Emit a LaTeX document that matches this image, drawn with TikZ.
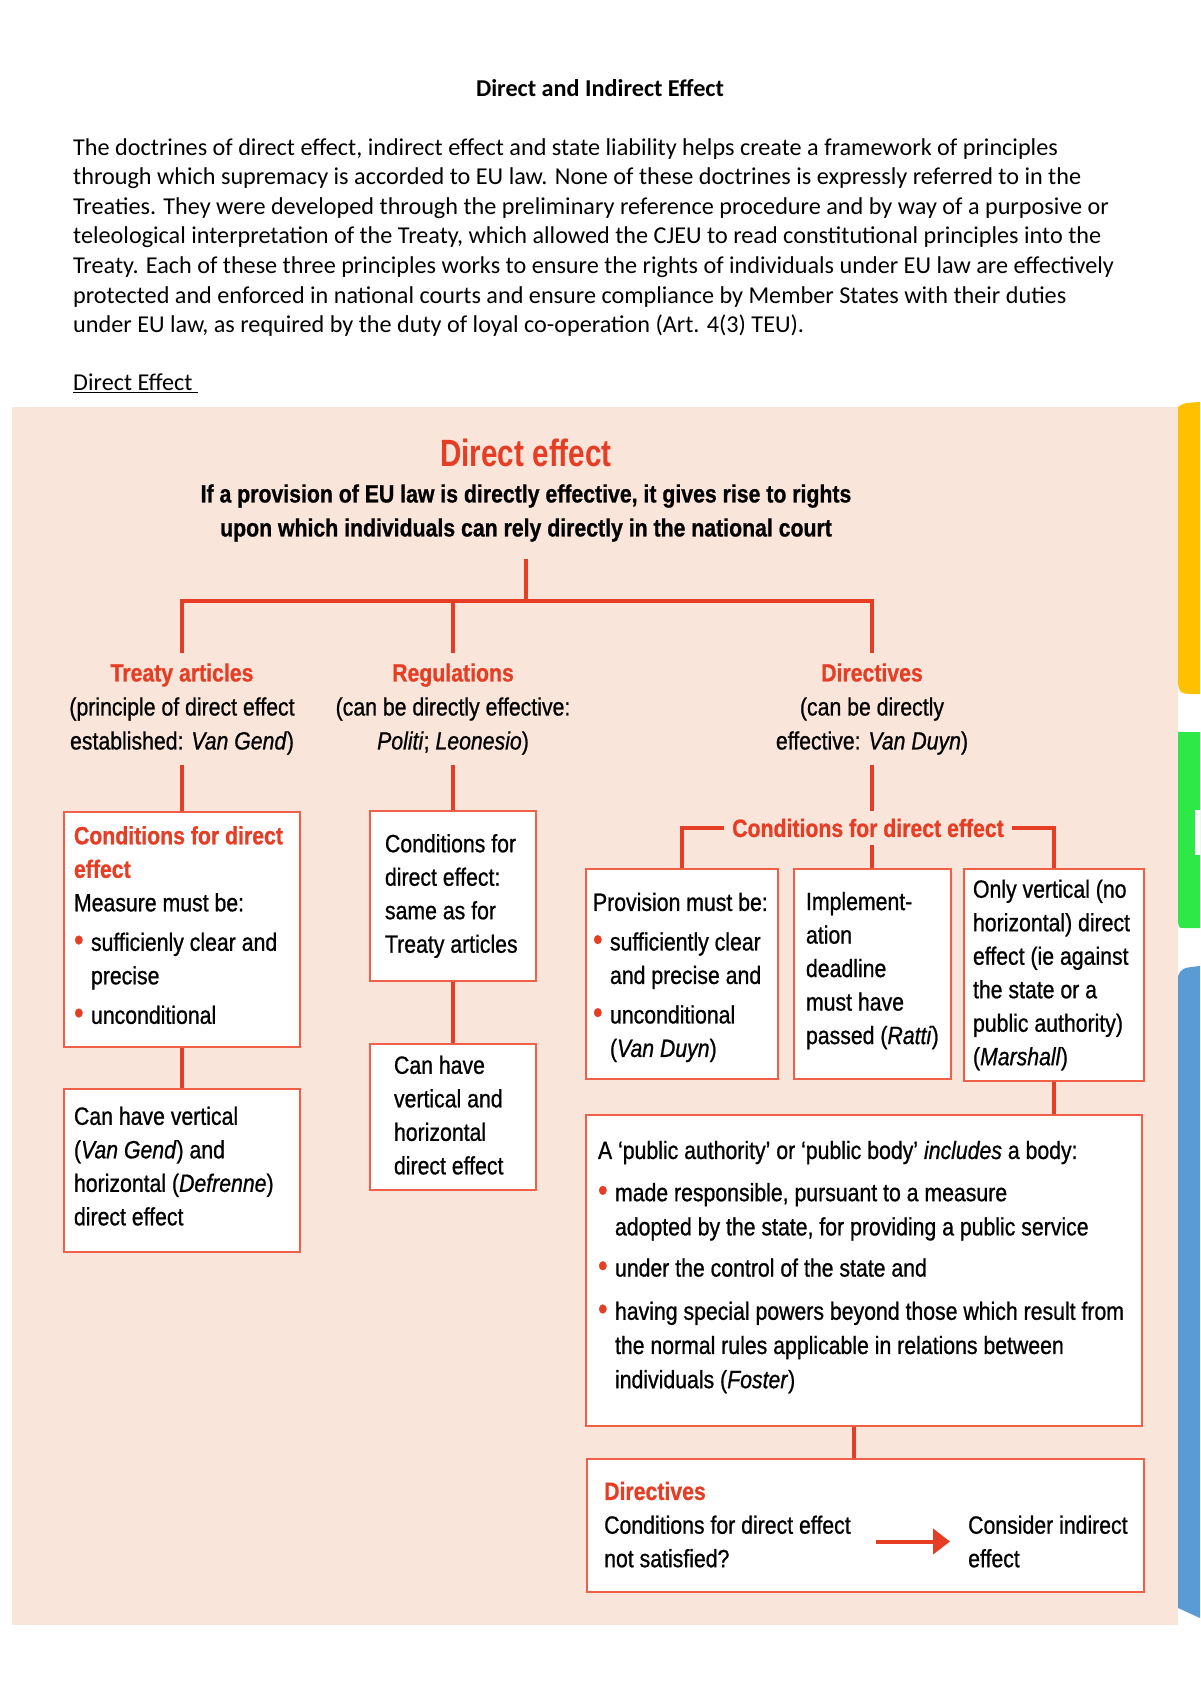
\documentclass[tikz,border=0pt]{standalone}
\usepackage{fontspec}
\setmainfont{Carlito}
\newfontfamily\diagfont[FakeStretch=0.85, FakeBold=0.8, Ligatures=TeX]{Liberation Sans}
\newfontfamily\headfont[FakeStretch=0.78]{Liberation Sans}
\usetikzlibrary{positioning, arrows.meta, calc}

\definecolor{deRed}{RGB}{230,62,36}
\definecolor{deBorder}{RGB}{240,96,72}
\definecolor{dePeach}{RGB}{250,229,219}
\definecolor{tabYellow}{RGB}{255,192,0}
\definecolor{tabGreen}{RGB}{46,232,72}
\definecolor{tabBlue}{RGB}{91,155,213}

\newcommand{\redHead}[1]{{\color{deRed}\bfseries #1}}
\newcommand{\redDot}{\makebox[17pt][l]{\color{deRed}\scalebox{1.3}{\textbullet}}}
\newcommand{\contIndent}{\hspace*{17pt}}
% invisible struts to nudge a text block inside its box
\newcommand{\padBelow}[1]{\rule[-#1]{0pt}{#1}}
\newcommand{\padAbove}[1]{\rule{0pt}{#1}}

\begin{document}
\begin{tikzpicture}[
    x=1pt, y=-1pt,
    % Node Styles
    pageText/.style={font=\fontsize{24.2}{29.6}\selectfont, inner sep=0pt, align=left},
    pageTitle/.style={font=\fontsize{24.2}{29.6}\selectfont\bfseries, inner sep=0pt},
    mainHead/.style={font=\headfont\bfseries\fontsize{38}{40}\selectfont, text=deRed, inner sep=0pt},
    subHead/.style={font=\diagfont\bfseries\fontsize{25}{34}\selectfont, align=center, inner sep=0pt, outer sep=17pt},
    bodyText/.style={font=\diagfont\fontsize{25}{33.5}\selectfont, inner sep=0pt},
    catLabel/.style={bodyText, font=\diagfont\fontsize{25}{34}\selectfont, align=center, outer sep=10pt},
    box/.style={bodyText, rectangle, draw=deBorder, line width=2pt, fill=white, align=flush left},
    conn/.style={draw=deRed, line width=4pt},
    arrowConn/.style={conn, -{Triangle[length=17pt, width=25pt]}}
]
\useasboundingbox (0,0) rectangle (1200,1698);

% =========================================================
% PAGE TEXT
% =========================================================
\node[pageTitle] (pageHead) at (600,88) {Direct and Indirect Effect};

\node[pageText, anchor=north west] (pageIntro) at (73,138) {
    The doctrines of direct effect, indirect effect and state liability helps create a framework of principles\\
    through which supremacy is accorded to EU law. None of these doctrines is expressly referred to in the\\
    Treaties. They were developed through the preliminary reference procedure and by way of a purposive or\\
    teleological interpretation of the Treaty, which allowed the CJEU to read constitutional principles into the\\
    Treaty. Each of these three principles works to ensure the rights of individuals under EU law are effectively\\
    protected and enforced in national courts and ensure compliance by Member States with their duties\\
    under EU law, as required by the duty of loyal co-operation (Art. 4(3) TEU).
};

\node[pageText, anchor=west] (pageSection) at (73,383) {\underline{Direct Effect\ }};

% =========================================================
% BACKGROUND AND SIDE TABS
% =========================================================
\fill[dePeach] (12,407) rectangle (1178,1625);

\fill[tabYellow] (1178,407) .. controls (1184,403) .. (1200,402) -- (1200,694)
    -- (1190,694) .. controls (1180,693) .. (1178,684) -- cycle;
\fill[tabGreen] (1178,732) -- (1200,732) -- (1200,928) -- (1184,928)
    .. controls (1179,928) .. (1178,922) -- cycle;
\fill[white] (1195,810) rectangle (1200,855);
\fill[tabBlue] (1178,976) .. controls (1182,968) .. (1200,966) -- (1200,1618)
    -- (1178,1608) -- cycle;

% =========================================================
% TOP: Direct effect
% =========================================================
\node[mainHead] (deTitle) at (526,453) {Direct effect};
\node[subHead] (deIntro) at (526,513) {If a provision of EU law is directly effective, it gives rise to rights\\upon which individuals can rely directly in the national court};

\coordinate (hub) at (526,601);

% Categories
\node[catLabel] (treaty) at (182,709) {\redHead{Treaty articles}\\(principle of direct effect\\established: \textit{Van Gend})};
\node[catLabel] (regulation) at (453,709) {\redHead{Regulations}\\(can be directly effective:\\\textit{Politi}; \textit{Leonesio})};
\node[catLabel] (directive) at (872,709) {\redHead{Directives}\\(can be directly\\effective: \textit{Van Duyn})};

% =========================================================
% LEFT: Treaty articles
% =========================================================
\node[box, minimum width=236pt, minimum height=235pt, text width=216pt] (treatyCond) at (182,929.5) {
    \redHead{Conditions for direct}\\
    \redHead{effect}\\
    Measure must be:\\[6pt]
    \redDot sufficienly clear and\\
    \contIndent precise\\[6pt]
    \redDot unconditional\padBelow{9pt}
};

\node[box, minimum width=236pt, minimum height=163pt, text width=216pt, below=40pt of treatyCond] (treatyScope) {
    Can have vertical\\
    (\textit{Van Gend}) and\\
    horizontal (\textit{Defrenne})\\
    direct effect\padBelow{9pt}
};

% =========================================================
% MIDDLE: Regulations
% =========================================================
\node[box, minimum width=166pt, minimum height=170pt, text width=136pt] (regCond) at (453,896) {
    Conditions for\\
    direct effect:\\
    same as for\\
    Treaty articles
};

\node[box, minimum width=166pt, minimum height=146pt, text width=118pt, below=61pt of regCond] (regScope) {
    Can have\\
    vertical and\\
    horizontal\\
    direct effect\padBelow{4pt}
};

% =========================================================
% RIGHT: Directives
% =========================================================
\node[bodyText, font=\diagfont\bfseries\fontsize{25}{30}\selectfont, text=deRed, outer sep=8pt] (dirCondHead) at (868,828) {Conditions for direct effect};

\node[box, minimum width=192pt, minimum height=210pt, text width=178pt] (dirClear) at (682,974) {
    \padAbove{25pt}Provision must be:\\[6pt]
    \redDot sufficiently clear\\
    \contIndent and precise and\\[6pt]
    \redDot unconditional\\
    \contIndent (\textit{Van Duyn})
};

\node[box, minimum width=157pt, minimum height=210pt, text width=133pt] (dirDeadline) at (872.5,974) {
    Implement-\\
    ation\\
    deadline\\
    must have\\
    passed (\textit{Ratti})\padBelow{12pt}
};

\node[box, minimum width=180pt, minimum height=212pt, text width=162pt] (dirVertical) at (1054,975) {
    Only vertical (no\\
    horizontal) direct\\
    effect (ie against\\
    the state or a\\
    public authority)\\
    (\textit{Marshall})
};

\node[box, minimum width=556pt, minimum height=311pt, text width=532pt, font=\diagfont\fontsize{25}{34.2}\selectfont] (publicBody) at (864,1270.5) {
    A ‘public authority’ or ‘public body’ \textit{includes} a body:\\[8pt]
    \redDot made responsible, pursuant to a measure\\
    \contIndent adopted by the state, for providing a public service\\[7pt]
    \redDot under the control of the state and\\[9pt]
    \redDot having special powers beyond those which result from\\
    \contIndent the normal rules applicable in relations between\\
    \contIndent individuals (\textit{Foster})\padBelow{12pt}
};

% Bottom box
\node[box, minimum width=557pt, minimum height=133pt] (directiveFail) at (865.5,1525.5) {};
\node[bodyText, font=\diagfont\bfseries\fontsize{25}{30}\selectfont, text=deRed, anchor=west] (failHead) at (604,1491) {Directives};
\node[bodyText, align=left, anchor=west] (failCond) at (604,1541.5) {Conditions for direct effect\\not satisfied?};
\node[bodyText, align=left, anchor=west] (indirect) at (968,1541.5) {Consider indirect\\effect};

% =========================================================
% CONNECTORS
% =========================================================
\draw[conn] (deIntro.south) -- (hub);
\draw[conn] (treaty.north) |- (hub) -| (directive.north);
\draw[conn] (regulation.north) -- (regulation.north |- hub);

\draw[conn] (treaty.south) -- (treaty.south |- treatyCond.north);
\draw[conn] (treatyCond.south) -- (treatyScope.north);

\draw[conn] (regulation.south) -- (regulation.south |- regCond.north);
\draw[conn] (regCond.south) -- (regCond.south |- regScope.north);

\draw[conn] (directive.south) -- (directive.south |- dirCondHead.north);
\draw[conn] (dirCondHead.west) -| (dirClear.north);
\draw[conn] (dirCondHead.east) -| (dirVertical.north);
\draw[conn] (directive.south |- dirCondHead.south) -- (directive.south |- dirDeadline.north);

\draw[conn] (dirVertical.south) -- (dirVertical.south |- publicBody.north);
\draw[conn] ([xshift=-10pt]publicBody.south) -- ([xshift=-10pt]publicBody.south |- directiveFail.north);

\draw[arrowConn, shorten <=25pt, shorten >=18pt] (failCond.east) -- (indirect.west);

\end{tikzpicture}
\end{document}
